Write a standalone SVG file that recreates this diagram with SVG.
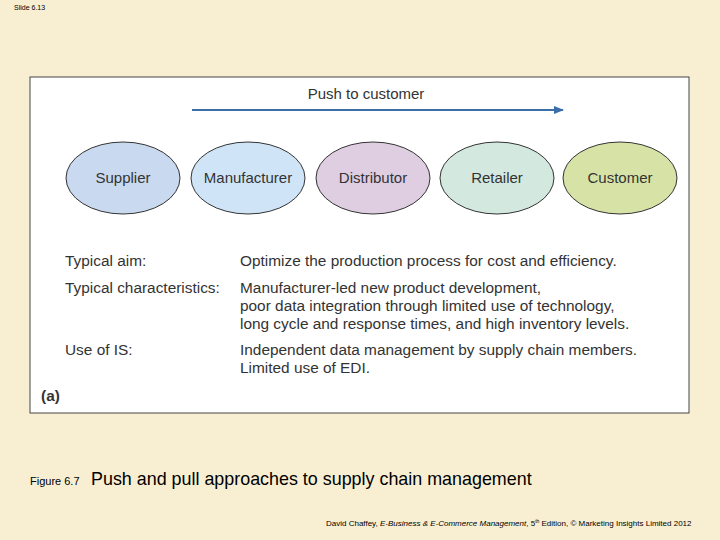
<svg xmlns="http://www.w3.org/2000/svg" width="720" height="540" viewBox="0 0 720 540">
<style>
.n{stroke:#333;stroke-width:1}
.t{font-family:"Liberation Sans",Arial,sans-serif;fill:#333}
.l{font-size:15.4px}
.c{font-size:15px;text-anchor:middle}
</style>
<defs><marker id="ah" markerWidth="10" markerHeight="8" refX="9" refY="4" orient="auto" markerUnits="userSpaceOnUse"><path d="M0,0 L10,4 L0,8 Z" fill="#3b6ea8"/></marker></defs>
<rect width="720" height="540" fill="#f8efd3"/>
<text x="14" y="10" font-family="Liberation Sans,Arial,sans-serif" font-size="7" fill="#000">Slide 6.13</text>
<rect x="30" y="77" width="659" height="336" fill="#fff" stroke="#444" stroke-width="1"/>
<text class="t c" x="366" y="99">Push to customer</text>
<g id="connectors"><line x1="192" y1="110" x2="563" y2="110" stroke="#3b6ea8" stroke-width="2" marker-end="url(#ah)"/></g>
<g id="supplier"><ellipse class="n" cx="123" cy="178" rx="57" ry="36" fill="#c9d9ef"/><text class="t c" x="123" y="183">Supplier</text></g>
<g id="manufacturer"><ellipse class="n" cx="248" cy="178" rx="57" ry="36" fill="#cfe5f7"/><text class="t c" x="248" y="183">Manufacturer</text></g>
<g id="distributor"><ellipse class="n" cx="373" cy="178" rx="57" ry="36" fill="#dfcde2"/><text class="t c" x="373" y="183">Distributor</text></g>
<g id="retailer"><ellipse class="n" cx="497" cy="178" rx="57" ry="36" fill="#d3e8de"/><text class="t c" x="497" y="183">Retailer</text></g>
<g id="customer"><ellipse class="n" cx="620" cy="178" rx="57" ry="36" fill="#d7e3a6"/><text class="t c" x="620" y="183">Customer</text></g>
<g class="t l">
<text x="65" y="266">Typical aim:</text>
<text x="240" y="266">Optimize the production process for cost and efficiency.</text>
<text x="65" y="293">Typical characteristics:</text>
<text x="240" y="293">Manufacturer-led new product development,</text>
<text x="240" y="311">poor data integration through limited use of technology,</text>
<text x="240" y="329">long cycle and response times, and high inventory levels.</text>
<text x="65" y="355">Use of IS:</text>
<text x="240" y="355">Independent data management by supply chain members.</text>
<text x="240" y="373">Limited use of EDI.</text>
<text x="41" y="401" font-weight="bold">(a)</text>
</g>
<text x="30" y="485" font-family="Liberation Sans,Arial,sans-serif" font-size="11" fill="#000">Figure 6.7</text>
<text x="91" y="485" font-family="Liberation Sans,Arial,sans-serif" font-size="17.9" fill="#000">Push and pull approaches to supply chain management</text>
<text x="326" y="526" font-family="Liberation Sans,Arial,sans-serif" font-size="8" fill="#000">David Chaffey, <tspan font-style="italic">E-Business &amp; E-Commerce Management</tspan>, 5<tspan font-size="5" dy="-3">th</tspan><tspan dy="3"> Edition, © Marketing Insights Limited 2012</tspan></text>
</svg>
